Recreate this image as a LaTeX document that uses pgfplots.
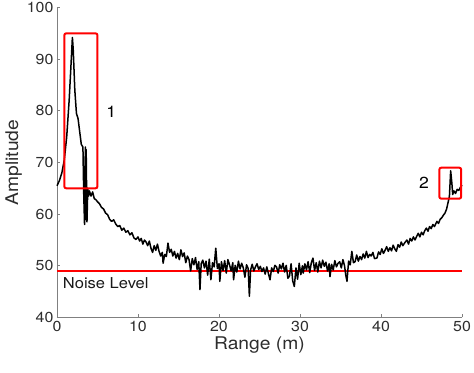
\documentclass[border=0pt]{standalone}
\usepackage{pgfplots}
\pgfplotsset{compat=1.18}
\usepackage{fontspec}
\setmainfont[FakeStretch=1.1]{TeX Gyre Heros}
\definecolor{axgray}{RGB}{128,128,128}
\definecolor{txtgray}{RGB}{45,45,45}
\begin{document}
\begin{tikzpicture}
\begin{axis}[
  name=ax,
  scale only axis, width=405pt, height=310pt,
  xmin=0, xmax=50, ymin=40, ymax=100,
  axis lines*=left,
  axis line style={axgray, line width=0.8pt},
  xtick={0,10,20,30,40,50}, ytick={40,50,60,70,80,90,100},
  tick align=inside, major tick length=3.5pt,
  tick style={axgray, line width=0.8pt},
  /pgf/number format/assume math mode=true,
  ticklabel style={font=\fontsize{14.5}{14.5}\selectfont, text=txtgray},
  xlabel={Range (m)}, ylabel={Amplitude},
  label style={font=\fontsize{17.5}{17.5}\selectfont, text=txtgray},
  xlabel style={yshift=2pt},
  ylabel style={yshift=-2pt},
  clip=false,
]
\addplot[red, line width=2pt] coordinates {(0,49) (50,49)};
\addplot[black, line width=1.5pt, line join=round] coordinates {
(0.0,65.5) (0.3,66.5) (0.6,68.0) (0.9,70.5) (1.2,75.0) (1.5,82.0) (1.7,88.0) (1.9,94.2) (2.0,92.0) (2.2,84.0) (2.4,79.5) (2.6,78.5) (2.8,76.0) (3.0,73.5) (3.2,73.0) (3.3,64.0) (3.4,58.0) (3.5,73.0) (3.55,59.0) (3.6,72.5) (3.7,58.5) (3.8,65.0) (3.9,63.5) (4.0,64.5) (4.2,63.5) (4.4,64.3) (4.6,63.0) (4.8,62.8)
(5.00,62.4) (5.25,62.0) (5.50,61.3) (5.75,61.0) (6.00,60.2) (6.25,59.9) (6.50,59.0) (6.75,58.6) (7.00,58.9) (7.25,58.1) (7.50,57.6) (7.75,57.8) (8.00,56.9) (8.25,57.3) (8.50,56.5) (8.75,56.8) (9.00,56.0) (9.25,56.4) (9.50,55.4) (9.75,55.1)
(10.0,55.6) (10.2,54.8) (10.4,55.3) (10.6,54.2) (10.8,55.0) (11.0,54.6) (11.2,53.9) (11.4,54.8) (11.6,53.4) (11.8,52.6) (12.0,53.9) (12.2,53.0) (12.4,54.2) (12.6,52.8) (12.8,51.9) (13.0,52.6) (13.1,50.5) (13.3,52.2) (13.5,51.8) (13.7,54.4) (13.9,52.6)
(14.1,53.2) (14.3,51.9) (14.5,52.8) (14.7,51.5) (14.9,52.4) (15.1,51.2) (15.3,53.1) (15.5,51.8) (15.7,52.5) (15.9,50.6) (16.1,51.9) (16.3,51.2) (16.5,49.0) (16.7,51.4) (16.9,50.2) (17.1,51.6) (17.3,49.3) (17.5,50.8) (17.65,45.4) (17.8,50.4)
(18.0,51.1) (18.2,49.6) (18.4,50.9) (18.6,48.2) (18.8,51.3) (19.0,47.3) (19.2,50.6) (19.4,49.8) (19.6,53.4) (19.8,49.5) (20.0,50.4) (20.1,47.0) (20.3,50.8) (20.5,49.1) (20.7,51.0) (20.9,48.6) (21.1,51.2) (21.3,50.2) (21.5,49.0) (21.7,50.6) (21.8,47.3)
(22.0,50.1) (22.2,48.8) (22.4,50.9) (22.6,49.4) (22.8,50.5) (23.0,49.6) (23.2,47.8) (23.4,50.2) (23.6,49.5) (23.75,44.1) (23.9,49.2) (24.1,50.3) (24.3,49.0) (24.5,49.8) (24.7,50.4) (24.9,49.3) (25.1,49.9) (25.3,48.9) (25.5,49.6) (25.7,48.4) (25.9,49.8)
(26.1,48.5) (26.3,47.3) (26.5,49.6) (26.7,48.9) (26.9,50.1) (27.1,49.8) (27.3,48.6) (27.5,50.2) (27.7,49.4) (27.9,50.5) (28.1,48.8) (28.3,50.1) (28.5,47.6) (28.7,48.0) (28.9,50.4) (29.1,47.1) (29.3,46.0) (29.5,49.6) (29.7,47.4) (29.9,50.5)
(30.1,48.3) (30.3,50.0) (30.4,48.6) (30.6,50.4) (30.8,49.2) (31.0,50.8) (31.2,48.7) (31.4,50.6) (31.6,51.5) (31.8,49.1) (32.0,50.6) (32.2,48.8) (32.4,50.9) (32.6,49.6) (32.8,51.1) (33.0,49.9) (33.2,50.7) (33.4,49.0) (33.6,50.4) (33.7,47.9) (33.9,50.3)
(34.1,49.2) (34.3,51.0) (34.5,49.8) (34.7,50.5) (34.9,50.8) (35.1,49.6) (35.3,51.2) (35.5,50.0) (35.65,48.2) (35.8,47.0) (36.0,50.9) (36.2,50.2) (36.4,52.8) (36.6,50.6) (36.8,50.8) (37.0,52.1) (37.2,50.9) (37.4,51.8) (37.6,51.2) (37.8,52.3)
(38.0,51.5) (38.2,52.8) (38.4,51.6) (38.6,52.2) (38.8,51.9) (39.0,52.6) (39.2,51.4) (39.5,51.5) (39.7,52.7) (39.9,52.2) (40.1,53.3) (40.3,52.4) (40.5,53.0) (40.7,53.7) (40.9,52.8) (41.1,53.5) (41.3,52.9) (41.5,54.0) (41.7,53.3) (41.9,52.8)
(42.1,54.1) (42.3,53.6) (42.5,54.6) (42.7,53.9) (42.9,54.4) (43.2,55.0) (43.4,54.2) (43.6,55.3) (43.8,54.8) (44.0,55.6) (44.2,55.0) (44.4,55.7) (44.6,56.3) (44.8,55.6) (45.0,56.5) (45.2,56.0) (45.4,56.8) (45.6,57.3) (45.8,56.7) (46.0,57.6)
(46.2,57.2) (46.4,58.0) (46.6,57.6) (46.9,58.6) (47.1,58.2) (47.3,59.0) (47.5,59.3) (47.7,59.8) (47.9,60.2) (48.1,61.0) (48.3,62.4) (48.45,63.5) (48.6,68.4) (48.75,66.0) (48.85,63.8) (49.0,64.5) (49.2,64.0) (49.4,64.8) (49.6,64.6) (49.8,65.2) (50.0,65.6)
};
\draw[red, line width=2pt, rounded corners=2pt] (axis cs:0.9,65) rectangle (axis cs:5.0,95);
\draw[red, line width=2pt, rounded corners=2pt] (axis cs:47.2,63) rectangle (axis cs:49.9,69);
\node[font=\fontsize{16}{16}\selectfont] at (axis cs:6.7,79.8) {1};
\node[font=\fontsize{16}{16}\selectfont] at (axis cs:45.3,66) {2};
\node[anchor=west, font=\fontsize{15}{15}\selectfont, text=black!90] at (axis cs:0.3,46.7) {Noise Level};
\end{axis}
\pgfresetboundingbox
\path ([xshift=-57pt,yshift=-55.3pt]ax.south west) rectangle ([xshift=12pt,yshift=7.5pt]ax.north east);
\end{tikzpicture}
\end{document}
